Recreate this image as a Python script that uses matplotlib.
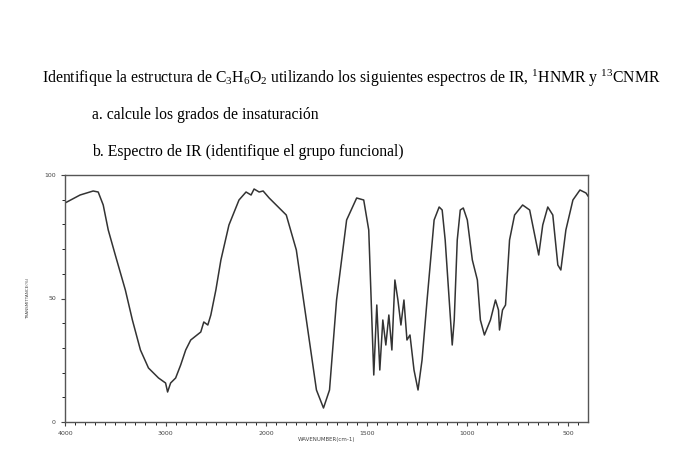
import numpy as np
import matplotlib
matplotlib.use("Agg")
import matplotlib.pyplot as plt
from matplotlib.ticker import FixedLocator

wavenumber = [4000,3850,3720,3670,3620,3570,3500,3400,3330,3250,3170,3070,3000,2980,2950,2900,2850,2800,2750,2700,2650,2620,2580,2550,2500,2450,2370,2270,2200,2150,2120,2070,2030,1985,1950,1900,1850,1800,1750,1715,1685,1650,1600,1550,1515,1490,1465,1450,1435,1420,1405,1390,1375,1360,1345,1330,1315,1300,1285,1265,1245,1225,1200,1165,1140,1125,1110,1090,1075,1065,1050,1035,1020,1000,975,950,935,915,885,860,845,840,825,810,790,765,725,690,660,645,625,600,575,550,535,510,475,440,410,400]
ypix = [203,195,191,192,205,230,255,290,320,350,368,378,383,392,383,378,365,350,340,336,332,322,325,315,290,260,225,200,192,195,189,192,191,198,205,215,250,320,390,408,390,300,220,198,200,230,375,305,370,320,345,315,350,280,300,325,300,340,335,370,390,360,300,220,207,210,240,300,345,320,240,210,208,220,260,280,320,335,320,300,310,330,310,305,240,215,205,210,240,255,225,207,215,265,270,230,200,190,193,196]
transmittance = [(422 - p) / 247 * 100 for p in ypix]

x_ticks = [4000, 3000, 2000, 1500, 1000, 500]
y_ticks = [0, 50, 100]

def fwd(w):
    w = np.asarray(w, dtype=float)
    return np.where(w > 2000, 2000 + (w - 2000) / 2, w)

def inv(u):
    u = np.asarray(u, dtype=float)
    return np.where(u > 2000, 2000 + (u - 2000) * 2, u)

plt.rcParams['mathtext.fontset'] = 'custom'
plt.rcParams['mathtext.rm'] = 'Liberation Serif'
plt.rcParams['mathtext.it'] = 'Liberation Serif:italic'

fig = plt.figure(figsize=(7, 4.53), dpi=100)
fs = 11.3
fig.text(42/700, 1 - 78/453, r"Identifique la estructura de C$_3$H$_6$O$_2$ utilizando los siguientes espectros de IR, $^1$HNMR y $^{13}$CNMR",
         family='Liberation Serif', fontsize=fs, va='center')
fig.text(92/700, 1 - 115/453, "a. calcule los grados de insaturación", family='Liberation Serif', fontsize=fs, va='center')
fig.text(92/700, 1 - 152/453, "b. Espectro de IR (identifique el grupo funcional)", family='Liberation Serif', fontsize=fs, va='center')

ax = fig.add_axes([65/700, 31/453, 523/700, 247/453])
ax.set_xscale('function', functions=(fwd, inv))
ax.plot(wavenumber, transmittance, color='#333333', lw=1.1)
ax.set_xlim(4000, 400)
ax.set_ylim(0, 100)
ax.xaxis.set_major_locator(FixedLocator(x_ticks))
ax.xaxis.set_minor_locator(FixedLocator(list(range(4000, 2000, -100)) + list(range(2000, 400, -50))))
ax.yaxis.set_major_locator(FixedLocator(y_ticks))
ax.yaxis.set_minor_locator(FixedLocator(list(range(0, 101, 10))))
ax.set_xticklabels([str(t) for t in x_ticks])
ax.tick_params(labelsize=4.5, colors='#444444', length=3, width=0.8)
ax.tick_params(which='minor', length=2, width=0.6)
ax.set_xlabel("WAVENUMBER(cm-1)", fontsize=4, labelpad=1, color='#444444')
ax.set_ylabel("TRANSMITTANCE(%)", fontsize=3, labelpad=10, color='#444444')
for s in ax.spines.values():
    s.set_color('#555555'); s.set_linewidth(1)
fig.savefig("out.png", dpi=100)
